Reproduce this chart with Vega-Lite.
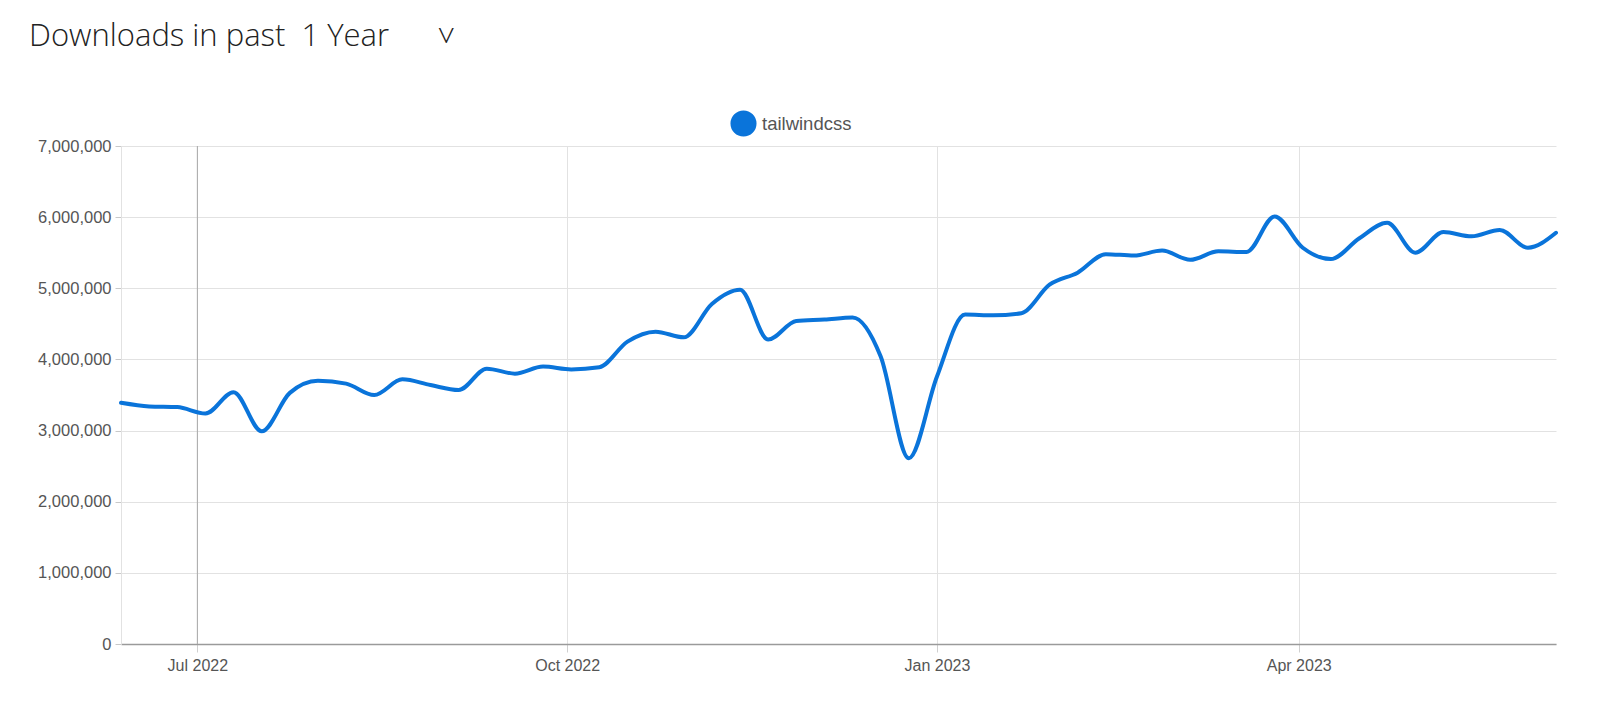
{
  "$schema": "https://vega.github.io/schema/vega-lite/v6.json",
  "autosize": "none",
  "width": 1435,
  "height": 498,
  "padding": {"left": 121, "top": 146, "right": 44, "bottom": 58},
  "background": "white",
  "title": {
    "text": "Downloads in past\u00a0\u00a01 Year\u00a0\u00a0\u00a0\u00a0\u00a0\u00a0\u02c5",
    "anchor": "start",
    "frame": "group",
    "dx": -92,
    "dy": 3,
    "offset": 60,
    "font": "Open Sans",
    "fontWeight": 300,
    "fontSize": 31,
    "color": "#222"
  },
  "datasets": {
    "downloads": [
      {"week": "2022-06-12", "package": "tailwindcss", "downloads": 3390000},
      {"week": "2022-06-19", "package": "tailwindcss", "downloads": 3340000},
      {"week": "2022-06-26", "package": "tailwindcss", "downloads": 3330000},
      {"week": "2022-07-03", "package": "tailwindcss", "downloads": 3240000},
      {"week": "2022-07-10", "package": "tailwindcss", "downloads": 3540000},
      {"week": "2022-07-17", "package": "tailwindcss", "downloads": 2990000},
      {"week": "2022-07-24", "package": "tailwindcss", "downloads": 3530000},
      {"week": "2022-07-31", "package": "tailwindcss", "downloads": 3700000},
      {"week": "2022-08-07", "package": "tailwindcss", "downloads": 3660000},
      {"week": "2022-08-14", "package": "tailwindcss", "downloads": 3500000},
      {"week": "2022-08-21", "package": "tailwindcss", "downloads": 3720000},
      {"week": "2022-08-28", "package": "tailwindcss", "downloads": 3640000},
      {"week": "2022-09-04", "package": "tailwindcss", "downloads": 3570000},
      {"week": "2022-09-11", "package": "tailwindcss", "downloads": 3870000},
      {"week": "2022-09-18", "package": "tailwindcss", "downloads": 3800000},
      {"week": "2022-09-25", "package": "tailwindcss", "downloads": 3900000},
      {"week": "2022-10-02", "package": "tailwindcss", "downloads": 3860000},
      {"week": "2022-10-09", "package": "tailwindcss", "downloads": 3890000},
      {"week": "2022-10-16", "package": "tailwindcss", "downloads": 4250000},
      {"week": "2022-10-23", "package": "tailwindcss", "downloads": 4390000},
      {"week": "2022-10-30", "package": "tailwindcss", "downloads": 4310000},
      {"week": "2022-11-06", "package": "tailwindcss", "downloads": 4780000},
      {"week": "2022-11-13", "package": "tailwindcss", "downloads": 4980000},
      {"week": "2022-11-20", "package": "tailwindcss", "downloads": 4280000},
      {"week": "2022-11-27", "package": "tailwindcss", "downloads": 4540000},
      {"week": "2022-12-04", "package": "tailwindcss", "downloads": 4560000},
      {"week": "2022-12-11", "package": "tailwindcss", "downloads": 4590000},
      {"week": "2022-12-18", "package": "tailwindcss", "downloads": 4040000},
      {"week": "2022-12-25", "package": "tailwindcss", "downloads": 2610000},
      {"week": "2023-01-01", "package": "tailwindcss", "downloads": 3760000},
      {"week": "2023-01-08", "package": "tailwindcss", "downloads": 4630000},
      {"week": "2023-01-15", "package": "tailwindcss", "downloads": 4620000},
      {"week": "2023-01-22", "package": "tailwindcss", "downloads": 4650000},
      {"week": "2023-01-29", "package": "tailwindcss", "downloads": 5050000},
      {"week": "2023-02-05", "package": "tailwindcss", "downloads": 5220000},
      {"week": "2023-02-12", "package": "tailwindcss", "downloads": 5480000},
      {"week": "2023-02-19", "package": "tailwindcss", "downloads": 5460000},
      {"week": "2023-02-26", "package": "tailwindcss", "downloads": 5530000},
      {"week": "2023-03-05", "package": "tailwindcss", "downloads": 5400000},
      {"week": "2023-03-12", "package": "tailwindcss", "downloads": 5520000},
      {"week": "2023-03-19", "package": "tailwindcss", "downloads": 5510000},
      {"week": "2023-03-26", "package": "tailwindcss", "downloads": 6010000},
      {"week": "2023-04-02", "package": "tailwindcss", "downloads": 5570000},
      {"week": "2023-04-09", "package": "tailwindcss", "downloads": 5410000},
      {"week": "2023-04-16", "package": "tailwindcss", "downloads": 5700000},
      {"week": "2023-04-23", "package": "tailwindcss", "downloads": 5920000},
      {"week": "2023-04-30", "package": "tailwindcss", "downloads": 5500000},
      {"week": "2023-05-07", "package": "tailwindcss", "downloads": 5790000},
      {"week": "2023-05-14", "package": "tailwindcss", "downloads": 5730000},
      {"week": "2023-05-21", "package": "tailwindcss", "downloads": 5820000},
      {"week": "2023-05-28", "package": "tailwindcss", "downloads": 5570000},
      {"week": "2023-06-04", "package": "tailwindcss", "downloads": 5780000}
    ],
    "cursor": [{"week": "2022-07-01"}]
  },
  "encoding": {
    "x": {
      "field": "week",
      "type": "temporal",
      "scale": {"type": "utc", "domain": ["2022-06-12", "2023-06-04"], "nice": false},
      "axis": {
        "title": null,
        "values": [
          {"year": 2022, "month": 7, "date": 1, "utc": true},
          {"year": 2022, "month": 10, "date": 1, "utc": true},
          {"year": 2023, "month": 1, "date": 1, "utc": true},
          {"year": 2023, "month": 4, "date": 1, "utc": true}
        ],
        "labelExpr": "utcFormat(datum.value, '%b %Y')",
        "grid": true,
        "gridColor": "#e2e2e2",
        "domainColor": "#9a9a9a",
        "domainWidth": 1.5,
        "tickColor": "#d0d0d0",
        "tickSize": 8,
        "labelPadding": 5,
        "labelFont": "Liberation Sans",
        "labelFontSize": 16,
        "labelColor": "#555"
      }
    }
  },
  "layer": [
    {
      "data": {"name": "cursor"},
      "mark": {"type": "rule", "color": "#a8a8a8", "strokeWidth": 1},
      "encoding": {}
    },
    {
      "data": {"name": "downloads"},
      "mark": {"type": "line", "interpolate": "monotone", "strokeWidth": 4, "strokeCap": "round", "strokeJoin": "round"},
      "encoding": {
        "y": {
          "field": "downloads",
          "type": "quantitative",
          "scale": {"domain": [0, 7000000], "nice": false},
          "axis": {
            "title": null,
            "values": [0, 1000000, 2000000, 3000000, 4000000, 5000000, 6000000, 7000000],
            "format": ",d",
            "grid": true,
            "gridColor": "#e2e2e2",
            "domainColor": "#e2e2e2",
            "tickColor": "#c8c8c8",
            "tickSize": 6,
            "labelPadding": 4,
            "labelFont": "Liberation Sans",
            "labelFontSize": 16.5,
            "labelColor": "#555"
          }
        },
        "color": {
          "field": "package",
          "type": "nominal",
          "scale": {"range": ["#0a74da"]},
          "legend": {
            "title": null,
            "orient": "none",
            "legendX": 609,
            "legendY": -36,
            "padding": 0,
            "symbolType": "circle",
            "symbolSize": 680,
            "symbolFillColor": "#0a74da",
            "symbolStrokeWidth": 0,
            "symbolOpacity": 1,
            "labelFont": "Liberation Sans",
            "labelFontSize": 18.5,
            "labelColor": "#555",
            "labelOffset": 5
          }
        }
      }
    }
  ],
  "config": {
    "view": {"stroke": null}
  }
}
